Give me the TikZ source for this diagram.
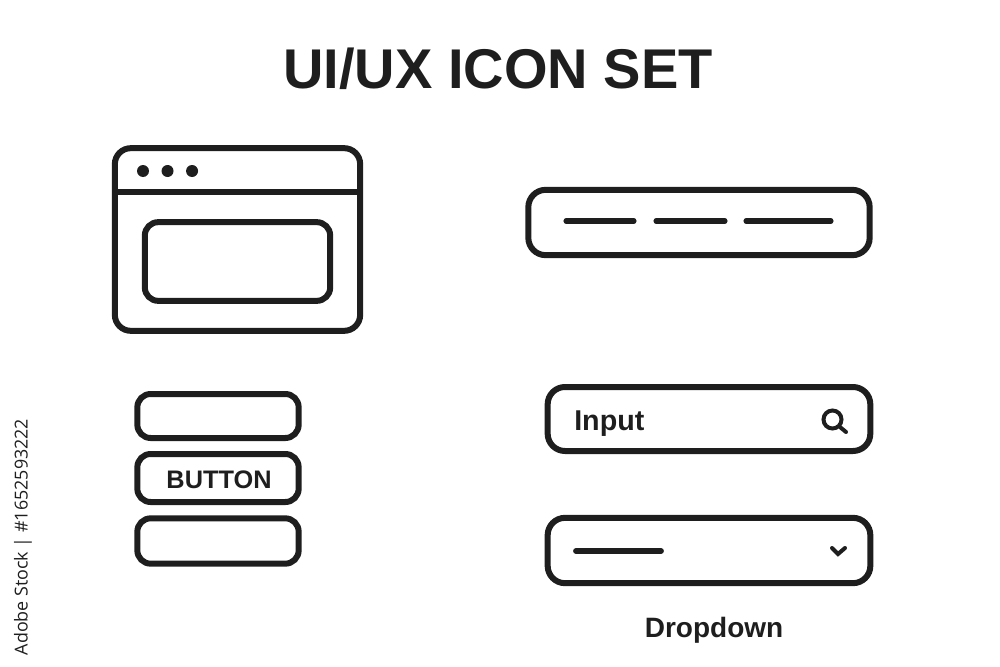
\documentclass[tikz,border=0pt]{standalone}
\usepackage{fontspec}
\setmainfont{Liberation Sans}
\newfontfamily\sidefont{Open Sans}
\usetikzlibrary{positioning}
\definecolor{clrIcon}{RGB}{30,30,30}
\tikzstyle{box_style}=[draw=clrIcon, line width=4.5pt, rounded corners=9pt, anchor=center, inner sep=0pt]
\tikzstyle{bar}=[box_style, rounded corners=13pt, minimum width=258pt, minimum height=48pt]
\tikzstyle{button}=[box_style, minimum width=121pt, rounded corners=10pt]
\tikzstyle{line}=[draw=clrIcon, line width=3.8pt, line cap=round]
\tikzstyle{dot}=[circle, fill=clrIcon, minimum size=9pt, inner sep=0pt]
\tikzstyle{label}=[text=clrIcon, font=\bfseries\fontsize{16}{16}\selectfont, inner sep=0pt]
\begin{document}
\begin{tikzpicture}[x=0.75pt, y=-0.75pt]
	\useasboundingbox (0,0) rectangle (1000,667);

	\node[label, font=\bfseries\fontsize{42}{42}\selectfont] (title) at (498,69) {UI/UX ICON SET};

	% window
	\node[box_style, rounded corners=12pt, minimum width=184pt, minimum height=137pt] (window) at (237.5,239.5) {};
	\node[box_style, rounded corners=10pt, minimum width=139pt, minimum height=59pt] (panel) at (237.5,261.5) {};
	\coordinate (headerL) at (115,192);
	\coordinate (headerR) at (360,192);
	\draw[line, line cap=butt, line width=4.8pt] (headerL) -- (headerR);
	\node[dot] (dotA) at (143,171) {};
	\node[dot, right=9pt of dotA] (dotB) {};
	\node[dot, right=9pt of dotB] (dotC) {};

	% top bar
	\node[bar, minimum width=256pt, minimum height=49pt] (menu) at (699,222.5) {};
	\coordinate (dashA) at (566,221);
	\coordinate (dashB) at (634,221);
	\coordinate (dashC) at (656,221);
	\coordinate (dashD) at (725,221);
	\coordinate (dashE) at (746,221);
	\coordinate (dashF) at (831,221);
	\draw[line] (dashA) -- (dashB);
	\draw[line] (dashC) -- (dashD);
	\draw[line] (dashE) -- (dashF);

	% buttons
	\node[button, minimum height=33pt] (btnA) at (218,416) {};
	\node[button, minimum height=36pt] (btnB) at (218,478) {};
	\node[button, minimum height=34pt] (btnC) at (218,541) {};
	\node[label, font=\bfseries\fontsize{19}{19}\selectfont] (btnText) at (219,480) {BUTTON};

	% input
	\node[bar, minimum width=242pt, minimum height=48pt] (input) at (709,419) {};
	\node[label, font=\bfseries\fontsize{21.5}{22}\selectfont, anchor=base west] (inputText) at (574,430) {Input};
	\node[circle, draw=clrIcon, line width=3pt, minimum size=13.5pt, inner sep=0pt] (lens) at (832.5,419.5) {};
	\coordinate (handle) at (846,432);
	\draw[line, line width=3pt] (lens.south east) -- (handle);

	% dropdown
	\node[bar, minimum width=242pt, minimum height=49pt] (dropdown) at (709,550.5) {};
	\coordinate (ruleL) at (576,551);
	\coordinate (ruleR) at (661,551);
	\draw[line, line width=4.4pt] (ruleL) -- (ruleR);
	\coordinate (chevA) at (832,548);
	\coordinate (chevB) at (838,554);
	\coordinate (chevC) at (845,548);
	\draw[line, line width=3pt] (chevA) -- (chevB) -- (chevC);
	\node[label, below=23pt of dropdown, xshift=3.8pt, font=\bfseries\fontsize{21}{21}\selectfont] (dropText) {Dropdown};

	% side note
	\node[rotate=90, text=clrIcon, font=\sidefont\fontsize{13.4}{14}\selectfont, inner sep=0pt] (side) at (23,537) {Adobe Stock | \#1652593222};
\end{tikzpicture}
\end{document}
